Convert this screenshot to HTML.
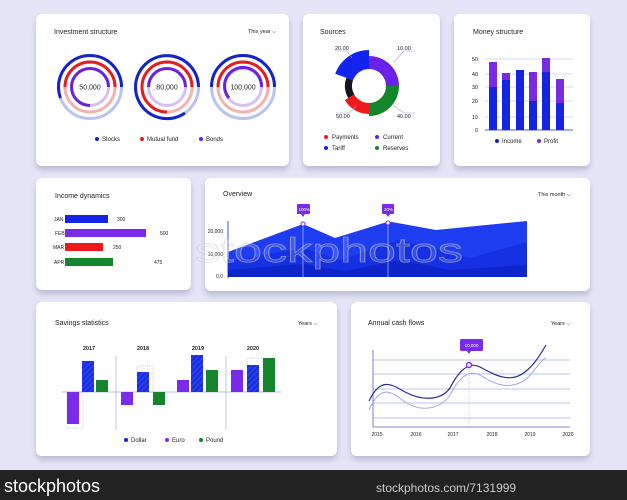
<!DOCTYPE html>
<html><head><meta charset="utf-8"><style>
body{margin:0;background:#e5e5f7;}
svg{display:block;font-family:"Liberation Sans",sans-serif;}
</style></head><body>
<svg width="627" height="500" viewBox="0 0 627 500" xmlns="http://www.w3.org/2000/svg">
<defs>
<filter id="sh" x="-10%" y="-10%" width="120%" height="130%"><feDropShadow dx="0" dy="4" stdDeviation="3" flood-color="#6a6a90" flood-opacity="0.35"/></filter>
<pattern id="hatch" width="4" height="4" patternUnits="userSpaceOnUse" patternTransform="rotate(45)"><rect width="4" height="4" fill="#1a2fe0"/><line x1="0" y1="0" x2="0" y2="4" stroke="#3a55ff" stroke-width="1.5"/></pattern>
</defs>
<rect width="627" height="500" fill="#e5e5f7"/>
<g filter="url(#sh)" fill="#fff">
<rect x="36" y="14" width="253" height="152" rx="6"/>
<rect x="303" y="14" width="137" height="152" rx="6"/>
<rect x="454" y="14" width="136" height="152" rx="6"/>
<rect x="36" y="178" width="155" height="112" rx="6"/>
<rect x="205" y="178" width="385" height="113" rx="6"/>
<rect x="36" y="302" width="301" height="154" rx="6"/>
<rect x="351" y="302" width="239" height="154" rx="6"/>
</g>
<g font-size="7" fill="#222">
<text x="54" y="34">Investment structure</text>
<text x="248" y="33" font-size="5.5">This year ⌵</text>
<text x="320" y="34">Sources</text>
<text x="473" y="34">Money structure</text>
<text x="55" y="198">Income dynamics</text>
<text x="223" y="196">Overview</text>
<text x="538" y="196" font-size="5.5">This month ⌵</text>
<text x="55" y="325">Savings statistics</text>
<text x="298" y="325" font-size="5.5">Years ⌵</text>
<text x="368" y="325">Annual cash flows</text>
<text x="551" y="325" font-size="5.5">Years ⌵</text>
</g>
<g fill="none" stroke-width="3">
<g transform="translate(90,87)">
<circle r="31.5" stroke="#b9c2f2"/><path d="M-29.5 11 A31.5 31.5 0 1 1 31.5 0" stroke="#1424c8"/>
<circle r="25" stroke="#f2b3ae"/><path d="M-25 0 A25 25 0 1 1 25 0" stroke="#e41e1e"/>
<circle r="18.5" stroke="#d4c0f6"/><path d="M0 18.5 A18.5 18.5 0 1 1 18.5 0" stroke="#6a22e0"/>
<text x="0" y="2.5" font-size="7" fill="#222" stroke="none" text-anchor="middle">50,000</text></g>
<g transform="translate(167,87)">
<circle r="31.5" stroke="#b9c2f2"/><path d="M18 26 A31.5 31.5 0 1 1 31.5 0" stroke="#1424c8"/>
<circle r="25" stroke="#f2b3ae"/><path d="M0 25 A25 25 0 1 1 25 0" stroke="#e41e1e"/>
<circle r="18.5" stroke="#d4c0f6"/><path d="M-18.5 0 A18.5 18.5 0 1 1 18.5 0" stroke="#6a22e0"/>
<text x="0" y="2.5" font-size="7" fill="#222" stroke="none" text-anchor="middle">80,000</text></g>
<g transform="translate(243,87)">
<circle r="31.5" stroke="#b9c2f2"/><path d="M-31.5 0 A31.5 31.5 0 1 1 31.5 0" stroke="#1424c8"/>
<circle r="25" stroke="#f2b3ae"/><path d="M-25 0 A25 25 0 1 1 25 0" stroke="#e41e1e"/>
<circle r="18.5" stroke="#d4c0f6"/><path d="M-14 11 A18.5 18.5 0 1 1 18.5 0" stroke="#6a22e0"/>
<text x="0" y="2.5" font-size="7" fill="#222" stroke="none" text-anchor="middle">100,000</text></g>
</g>
<g font-size="6" fill="#222">
<circle cx="97" cy="139" r="2" fill="#1424c8"/><text x="102" y="141">Stocks</text>
<circle cx="142" cy="139" r="2" fill="#e41e1e"/><text x="147" y="141">Mutual fund</text>
<circle cx="201" cy="139" r="2" fill="#6a22e0"/><text x="206" y="141">Bonds</text>
</g>
<path d="M369 56 A30 30 0 0 1 399 86 L386 86 A17 17 0 0 0 369 69Z" fill="#6a22e8"/>
<path d="M399 86 A30 30 0 0 1 369 116 L369 103 A17 17 0 0 0 386 86Z" fill="#13852a"/>
<path d="M369 114 A28 28 0 0 1 344.8 100 L354.3 94.5 A17 17 0 0 0 369 103Z" fill="#ee1a1a"/>
<path d="M348.2 98 A24 24 0 0 1 346.4 77.8 L353 80.2 A17 17 0 0 0 354.3 94.5Z" fill="#151520"/>
<path d="M335.2 73.7 A36 36 0 0 1 369 50 L369 69 A17 17 0 0 0 353 80.2Z" fill="#1424f0"/>
<g stroke="#9aa3d8" stroke-width="0.6" fill="none">
<polyline points="335,51 347,51 352,58"/><polyline points="415,51 404,51 394,62"/>
<polyline points="336,113 349,113 356,106"/><polyline points="415,113 404,113 394,106"/>
</g>
<g font-size="5.5" fill="#222">
<text x="335" y="50">20.00</text><text x="397" y="50">10.00</text>
<text x="336" y="118">50.00</text><text x="397" y="118">40.00</text>
</g>
<g font-size="6" fill="#222">
<circle cx="326" cy="137" r="2" fill="#ee1a1a"/><text x="332" y="139">Payments</text>
<circle cx="377" cy="137" r="2" fill="#6a22e8"/><text x="383" y="139">Current</text>
<circle cx="326" cy="148" r="2" fill="#1424c8"/><text x="332" y="150">Tariff</text>
<circle cx="377" cy="148" r="2" fill="#13852a"/><text x="383" y="150">Reserves</text>
</g>
<g stroke="#a8b2ec" stroke-width="0.6">
<line x1="485" y1="59" x2="573" y2="59"/><line x1="485" y1="74" x2="573" y2="74"/><line x1="485" y1="87" x2="573" y2="87"/><line x1="485" y1="101" x2="573" y2="101"/><line x1="485" y1="117" x2="573" y2="117"/>
</g>
<line x1="485" y1="130" x2="573" y2="130" stroke="#1424c8" stroke-width="0.8"/>
<g font-size="5.5" fill="#222" text-anchor="end">
<text x="478" y="61">50</text><text x="478" y="76">40</text><text x="478" y="89">30</text><text x="478" y="103">20</text><text x="478" y="119">10</text><text x="478" y="132">0</text>
</g>
<g>
<rect x="489" y="62" width="8" height="25" fill="#7a2ae0"/><rect x="489" y="87" width="8" height="43" fill="#1424e0"/>
<rect x="502" y="73" width="8" height="7" fill="#7a2ae0"/><rect x="502" y="80" width="8" height="50" fill="#1424e0"/>
<rect x="516" y="70" width="8" height="60" fill="#1424e0"/>
<rect x="529" y="72" width="8" height="29" fill="#7a2ae0"/><rect x="529" y="101" width="8" height="29" fill="#1424e0"/>
<rect x="542" y="58" width="8" height="14" fill="#7a2ae0"/><rect x="542" y="72" width="8" height="58" fill="#1424e0"/>
<rect x="556" y="79" width="8" height="24" fill="#7a2ae0"/><rect x="556" y="103" width="8" height="27" fill="#1424e0"/>
</g>
<g font-size="6" fill="#222">
<circle cx="497" cy="141" r="2" fill="#1424c8"/><text x="502" y="143">Income</text>
<circle cx="539" cy="141" r="2" fill="#7a2ae0"/><text x="544" y="143">Profit</text>
</g>
<g font-size="5" fill="#222">
<text x="54" y="221">JAN</text><text x="55" y="235">FEB</text><text x="53" y="249">MAR</text><text x="54" y="264">APR</text>
<text x="117" y="221">300</text><text x="160" y="235">500</text><text x="113" y="249">250</text><text x="154" y="264">475</text>
</g>
<rect x="65" y="215" width="43" height="8" fill="#1424e8"/>
<rect x="65" y="229" width="81" height="8" fill="#7a2aea"/>
<rect x="65" y="243" width="38" height="8" fill="#ee1a1a"/>
<rect x="65" y="258" width="48" height="8" fill="#13852a"/>
<path d="M228 252 L303 224 L335 238 L387 222 L392 222 L436 230 L527 221 L527 277 L228 277Z" fill="#1e3cf0"/>
<path d="M228 262 L303 248 L340 260 L400 240 L470 258 L527 242 L527 277 L228 277Z" fill="#1530e0"/>
<path d="M228 270 L303 264 L345 271 L400 260 L450 270 L527 265 L527 277 L228 277Z" fill="#0f25cc"/>
<line x1="228" y1="221" x2="228" y2="278" stroke="#1424c8" stroke-width="0.8"/>
<line x1="303" y1="224" x2="303" y2="277" stroke="#c9d2ff" stroke-width="0.6"/>
<line x1="388" y1="223" x2="388" y2="277" stroke="#c9d2ff" stroke-width="0.6"/>
<circle cx="303" cy="224" r="2" fill="#fff" stroke="#7a2aea" stroke-width="1"/>
<circle cx="388" cy="223" r="2" fill="#fff" stroke="#7a2aea" stroke-width="1"/>
<rect x="297" y="204" width="13" height="10" rx="1" fill="#7a2aea"/><path d="M301 214 L303 217 L305 214Z" fill="#7a2aea"/>
<rect x="382" y="204" width="12" height="10" rx="1" fill="#7a2aea"/><path d="M386 214 L388 217 L390 214Z" fill="#7a2aea"/>
<g font-size="4.5" fill="#fff"><text x="298.5" y="211">100%</text><text x="384" y="211">20%</text></g>
<g font-size="5" fill="#222" text-anchor="end"><text x="223" y="233">20,000</text><text x="223" y="256">10,000</text><text x="223" y="278">0,0</text></g>
<text x="195" y="262" font-size="34" textLength="268" lengthAdjust="spacingAndGlyphs" fill="#ffffff" fill-opacity="0.15" stroke="#c8c8d0" stroke-opacity="0.6" stroke-width="0.7">stockphotos</text>
<line x1="62" y1="392" x2="281" y2="392" stroke="#9aa6e0" stroke-width="0.8"/>
<g stroke="#9aa6d0" stroke-width="0.6"><line x1="116" y1="356" x2="116" y2="430"/><line x1="226" y1="356" x2="226" y2="430"/></g>
<g font-size="5.5" fill="#222" text-anchor="middle" font-weight="bold"><text x="89" y="350">2017</text><text x="143" y="350">2018</text><text x="198" y="350">2019</text><text x="253" y="350">2020</text></g>
<g stroke="#999" stroke-width="0.4" stroke-dasharray="1,1" fill="none"><rect x="67" y="392" width="16" height="36"/><rect x="137" y="366" width="16" height="26"/><rect x="247" y="358" width="15" height="34"/></g>
<rect x="67" y="392" width="12" height="32" fill="#7a2aea"/>
<rect x="82" y="361" width="12" height="31" fill="url(#hatch)"/>
<rect x="96" y="380" width="12" height="12" fill="#13852a"/>
<rect x="121" y="392" width="12" height="13" fill="#7a2aea"/>
<rect x="137" y="372" width="12" height="20" fill="url(#hatch)"/>
<rect x="153" y="392" width="12" height="13" fill="#13852a"/>
<rect x="177" y="380" width="12" height="12" fill="#7a2aea"/>
<rect x="191" y="355" width="12" height="37" fill="url(#hatch)"/>
<rect x="206" y="370" width="12" height="22" fill="#13852a"/>
<rect x="231" y="370" width="12" height="22" fill="#7a2aea"/>
<rect x="247" y="365" width="12" height="27" fill="url(#hatch)"/>
<rect x="263" y="358" width="12" height="34" fill="#13852a"/>
<g font-size="6" fill="#222">
<circle cx="126" cy="440" r="2" fill="#1424c8"/><text x="131" y="442">Dollar</text>
<circle cx="167" cy="440" r="2" fill="#7a2aea"/><text x="172" y="442">Euro</text>
<circle cx="201" cy="440" r="2" fill="#13852a"/><text x="206" y="442">Pound</text>
</g>
<g stroke="#a8b2ec" stroke-width="0.8"><line x1="373" y1="360" x2="570" y2="360"/><line x1="373" y1="374" x2="570" y2="374"/><line x1="373" y1="389" x2="570" y2="389"/><line x1="373" y1="403" x2="570" y2="403"/><line x1="373" y1="418" x2="570" y2="418"/></g>
<line x1="373" y1="350" x2="373" y2="427" stroke="#5060c8" stroke-width="0.8"/>
<line x1="373" y1="427" x2="570" y2="427" stroke="#5060c8" stroke-width="0.8"/>
<path d="M369 410 C380 385 390 390 405 402 C420 412 440 410 450 395 C460 375 470 370 480 375 C495 385 510 390 525 380 C535 372 540 360 546 358" fill="none" stroke="#a0a8e8" stroke-width="1"/>
<path d="M369 401 C380 378 390 383 405 392 C420 400 440 402 450 388 C460 368 470 362 480 367 C495 375 510 384 525 372 C535 364 540 355 546 345" fill="none" stroke="#2a2a9a" stroke-width="1.2"/>
<line x1="469" y1="365" x2="469" y2="427" stroke="#999" stroke-width="0.5" stroke-dasharray="1,1"/>
<circle cx="469" cy="365" r="5" fill="none" stroke="#aaa" stroke-width="0.4" stroke-dasharray="1,1"/>
<circle cx="469" cy="365" r="2.5" fill="#fff" stroke="#7a2aea" stroke-width="1.4"/>
<rect x="460" y="339" width="23" height="12" rx="1.5" fill="#7a2aea"/><path d="M467 351 L469 354 L471 351Z" fill="#7a2aea"/>
<text x="471.5" y="347" font-size="4.5" fill="#fff" text-anchor="middle">10,000</text>
<g font-size="5" fill="#222" text-anchor="middle"><text x="377" y="436">2015</text><text x="416" y="436">2016</text><text x="453" y="436">2017</text><text x="492" y="436">2018</text><text x="530" y="436">2019</text><text x="568" y="436">2020</text></g>
<rect x="0" y="470" width="627" height="30" fill="#222"/>
<text x="4" y="492" font-size="18" fill="#fff">stockphotos</text>
<text x="376" y="492" font-size="12" fill="#ccc">stockphotos.com/7131999</text>
</svg>
</body></html>
